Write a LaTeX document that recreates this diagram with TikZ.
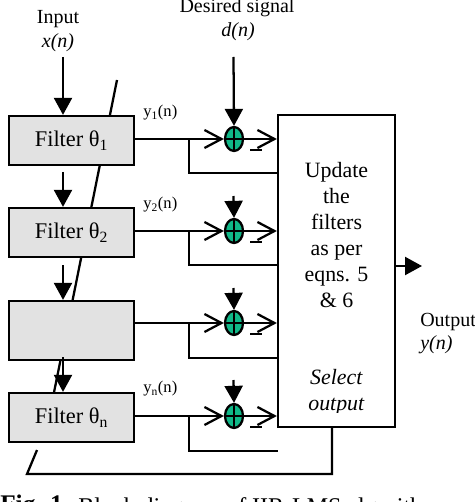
\documentclass[tikz,border=0pt]{standalone}
\usepackage{fontspec}
\setmainfont{Liberation Serif}
\usetikzlibrary{arrows.meta,calc,shapes.geometric}
\definecolor{boxgray}{RGB}{226,226,226}
\definecolor{sumgreen}{RGB}{16,184,136}
\tikzset{
  wire/.style={line width=1.7pt},
  feed/.style={wire,-{Triangle[length=12.75pt,width=13.5pt]}},
  barb/.style={wire,-{Straight Barb[length=12.75pt,width=13.5pt]}},
  filterbox/.style={draw,line width=1.7pt,fill=boxgray,minimum width=94pt,font=\fontsize{16.8}{19.5}\selectfont},
  sumnode/.style={draw,ellipse,line width=1.7pt,fill=sumgreen,minimum width=13.5pt,minimum height=18pt,inner sep=0pt},
  toplabel/.style={font=\fontsize{15}{18}\selectfont},
  ylabel/.style={anchor=west,inner sep=0pt,font=\fontsize{12.4}{15}\selectfont},
  updatetext/.style={align=center,font=\fontsize{16.4}{19.5}\selectfont}
}
\begin{document}
\begin{tikzpicture}[x=0.75pt,y=-0.75pt]
\useasboundingbox (0,0) rectangle (474,502);
\clip (0,0) rectangle (474,502);
% slanted line runs behind the boxes
\coordinate (slanttop) at (117,80);
\coordinate (slantend) at (44,442);
\draw[wire] (slanttop)--(slantend);
% filters
\node[filterbox,minimum height=36.75pt] (f1) at (71.5,140.5) {Filter θ\textsubscript{1}};
\node[filterbox,minimum height=36.75pt] (f2) at (71.5,232.5) {Filter θ\textsubscript{2}};
\node[filterbox,minimum height=44.25pt] (f3) at (71.5,330.5) {};
\node[filterbox,minimum height=36.75pt] (fn) at (71.5,417.5) {Filter θ\textsubscript{n}};
% update block
\node[draw,line width=1.7pt,minimum width=87.75pt,minimum height=234pt] (up) at (336.5,271) {};
\node[updatetext] (uptext) at (336.5,235) {Update\\the\\filters\\as per\\eqns. 5\\\& 6};
\begin{scope}
\clip (300,360) rectangle (380,412);
\node[updatetext] (seltext) at (336.5,392) {\textit{Select}\\\textit{output}};
\end{scope}
% labels on top
\node[toplabel] (inlab) at (58,19) {Input};
\node[toplabel] (xlab) at (58,43) {\textit{x(n)}};
\node[toplabel] (dlab) at (237,8) {Desired signal};
\node[toplabel] (dnlab) at (238,32) {\textit{d(n)}};
\node[ylabel] (y1lab) at (143,113) {y\textsubscript{1}(n)};
\node[ylabel] (y2lab) at (143,205) {y\textsubscript{2}(n)};
\node[ylabel] (ynlab) at (143,389) {y\textsubscript{n}(n)};
% filter chain
\coordinate (intop) at (63,57);
\coordinate (c2) at (63,172);
\coordinate (c3) at (63,265);
\coordinate (c4) at (63,357);
\draw[feed] (intop)--(intop |- f1.north);
\draw[feed] (c2)--(c2 |- f2.north);
\draw[feed] (c3)--(c3 |- f3.north);
\draw[feed] (c4)--(c4 |- fn.north);
% one summing branch per filter
\foreach \f/\y/\t/\b in {f1/139/57/173,f2/231/196/265,f3/323/288/358,fn/416/380/451}
{\node[sumnode] (s\f) at (234,\y) {};
 \coordinate (t\f) at (233.5,\t);
 \coordinate (j\f) at (189,\y);
 \coordinate (r\f) at (278,\b);
 \draw[barb] (\f.east |- s\f) -- (s\f.west);
 \draw[barb] (s\f.west) -- (s\f.west -| up.west);
 \draw[line width=1.2pt] (s\f.north)--(s\f.south);
 \draw[feed] (t\f)--(s\f.north);
 \draw[wire] (j\f) |- (r\f);
 \draw[wire] ($(s\f)+(16,11)$) -- ++(12,0);}
% select output goes back to the filters
\coordinate (selbot) at (332,474);
\coordinate (selleft) at (27,474);
\coordinate (selend) at (37,450);
\draw[wire] (selbot |- up.south) -- (selbot) -- (selleft) -- (selend);
% output
\coordinate (outend) at (422,266);
\draw[feed] (up.east |- outend)--(outend);
\node[toplabel,anchor=west,inner sep=0pt] (outlab) at (420,322) {Output};
\node[toplabel,anchor=west,inner sep=0pt] (ynout) at (420,345) {\textit{y(n)}};
% caption, cut by the lower edge
\node[anchor=base west,inner sep=0pt,font=\fontsize{19}{20}\bfseries] (figlab) at (0,512) {Fig. 1.};
\node[anchor=base west,inner sep=0pt,font=\fontsize{18}{20}\selectfont] (caplab) at (78,514) {Block diagram of IIR-LMS algorithm};
\end{tikzpicture}
\end{document}
